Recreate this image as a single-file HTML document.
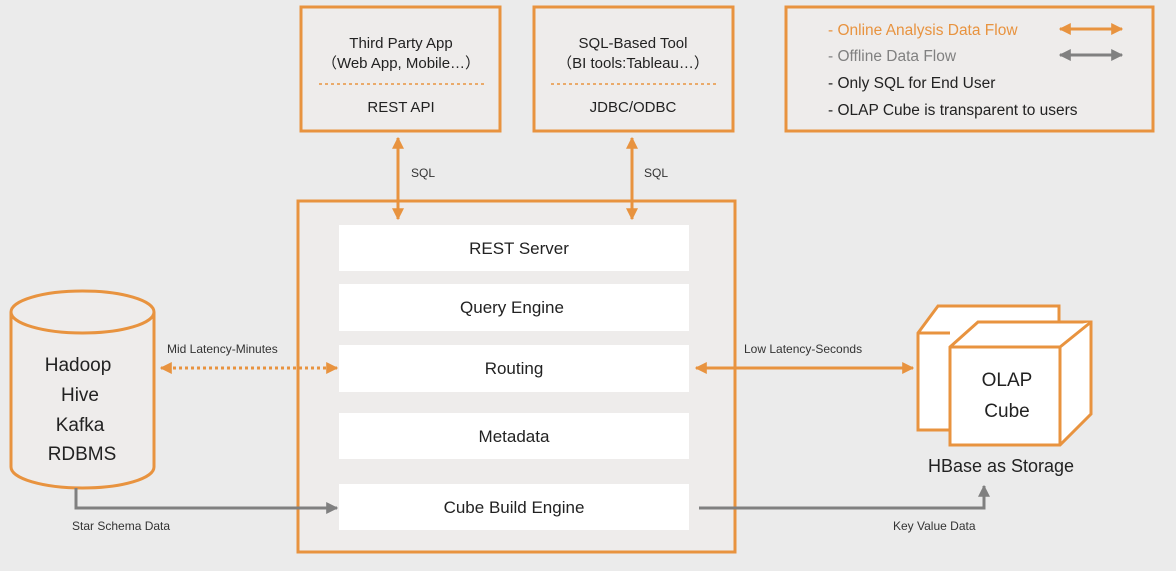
<!DOCTYPE html>
<html><head><meta charset="utf-8"><style>
html,body{margin:0;padding:0;background:#ebebeb;}
svg{display:block;font-family:"Liberation Sans",sans-serif;}
</style></head><body>
<svg width="1176" height="571" viewBox="0 0 1176 571" xmlns="http://www.w3.org/2000/svg">
<defs>
<marker id="ao" viewBox="0 0 10 10" refX="9" refY="5" markerWidth="4" markerHeight="4" orient="auto-start-reverse"><path d="M0,0L10,5L0,10z" fill="#e8933f"/></marker>
<marker id="ag" viewBox="0 0 10 10" refX="9" refY="5" markerWidth="4" markerHeight="4" orient="auto-start-reverse"><path d="M0,0L10,5L0,10z" fill="#808080"/></marker>
</defs>
<rect width="1176" height="571" fill="#ebebeb"/>
<g fill="#eeeceb" stroke="#e8933f" stroke-width="3">
<rect x="301" y="7" width="199" height="124"/>
<rect x="534" y="7" width="199" height="124"/>
<rect x="786" y="7" width="367" height="124"/>
<rect x="298" y="201" width="437" height="351"/>
</g>
<g stroke="#e8933f" stroke-width="1.5" stroke-dasharray="3,3"><line x1="319" y1="84" x2="484" y2="84"/><line x1="551" y1="84" x2="716" y2="84"/></g>
<g font-size="15" fill="#222" text-anchor="middle">
<text x="401" y="48">Third Party App</text>
<text x="401" y="68">（Web App, Mobile…）</text>
<text x="401" y="112">REST API</text>
<text x="633" y="48">SQL-Based Tool</text>
<text x="633" y="68">（BI tools:Tableau…）</text>
<text x="633" y="112">JDBC/ODBC</text>
</g>
<g font-size="15.5">
<text x="828" y="35" fill="#e8933f">- Online Analysis Data Flow</text>
<text x="828" y="61" fill="#808080">- Offline Data Flow</text>
<text x="828" y="88" fill="#222">- Only SQL for End User</text>
<text x="828" y="115" fill="#222">- OLAP Cube is transparent to users</text>
</g>
<line x1="1060" y1="29" x2="1122" y2="29" stroke="#e8933f" stroke-width="3" marker-start="url(#ao)" marker-end="url(#ao)"/>
<line x1="1060" y1="55" x2="1122" y2="55" stroke="#808080" stroke-width="3" marker-start="url(#ag)" marker-end="url(#ag)"/>
<line x1="398" y1="138" x2="398" y2="219" stroke="#e8933f" stroke-width="3" marker-start="url(#ao)" marker-end="url(#ao)"/>
<line x1="632" y1="138" x2="632" y2="219" stroke="#e8933f" stroke-width="3" marker-start="url(#ao)" marker-end="url(#ao)"/>
<g font-size="12" fill="#333"><text x="411" y="177">SQL</text><text x="644" y="177">SQL</text></g>
<g fill="#fff">
<rect x="339" y="225" width="350" height="46"/>
<rect x="339" y="284" width="350" height="47"/>
<rect x="339" y="345" width="350" height="47"/>
<rect x="339" y="413" width="350" height="46"/>
<rect x="339" y="484" width="350" height="46"/>
</g>
<g font-size="17" fill="#222" text-anchor="middle">
<text x="519" y="254">REST Server</text>
<text x="512" y="313">Query Engine</text>
<text x="514" y="374">Routing</text>
<text x="514" y="442">Metadata</text>
<text x="514" y="513">Cube Build Engine</text>
</g>
<!-- cylinder -->
<path d="M11,312 L11,467 A71.5,21 0 0 0 154,467 L154,312" fill="#eeeceb" stroke="#e8933f" stroke-width="3"/>
<ellipse cx="82.5" cy="312" rx="71.5" ry="21" fill="#eeeceb" stroke="#e8933f" stroke-width="3"/>
<g font-size="19" fill="#222" text-anchor="middle">
<text x="78" y="371">Hadoop</text><text x="80" y="401">Hive</text><text x="80" y="431">Kafka</text><text x="82" y="460">RDBMS</text>
</g>
<line x1="161" y1="368" x2="337" y2="368" stroke="#e8933f" stroke-width="3" stroke-dasharray="3,3" marker-start="url(#ao)" marker-end="url(#ao)"/>
<text x="167" y="353" font-size="12" fill="#333">Mid Latency-Minutes</text>
<polyline points="76,488 76,508 337,508" fill="none" stroke="#808080" stroke-width="3" marker-end="url(#ag)"/>
<text x="72" y="530" font-size="12" fill="#333">Star Schema Data</text>
<line x1="696" y1="368" x2="913" y2="368" stroke="#e8933f" stroke-width="3" marker-start="url(#ao)" marker-end="url(#ao)"/>
<text x="744" y="353" font-size="12" fill="#333">Low Latency-Seconds</text>
<polyline points="699,508 984,508 984,486" fill="none" stroke="#808080" stroke-width="3" marker-end="url(#ag)"/>
<text x="893" y="530" font-size="12" fill="#333">Key Value Data</text>
<!-- cubes -->
<g stroke="#e8933f" stroke-width="3" fill="#fff" stroke-linejoin="miter">
<path d="M918,333 L938,306 L1059,306 L1059,330 L1040,430 L918,430 Z"/>
<path d="M918,333 L950,333"/>
<path d="M950,347 L978,322 L1091,322 L1091,414 L1060,445 L950,445 Z"/>
<path d="M950,347 L1060,347 L1091,322 M1060,347 L1060,445"/>
</g>
<g font-size="19" fill="#222" text-anchor="middle"><text x="1007" y="386">OLAP</text><text x="1007" y="417">Cube</text></g>
<text x="1001" y="472" font-size="18" fill="#222" text-anchor="middle">HBase  as Storage</text>
</svg>
</body></html>
